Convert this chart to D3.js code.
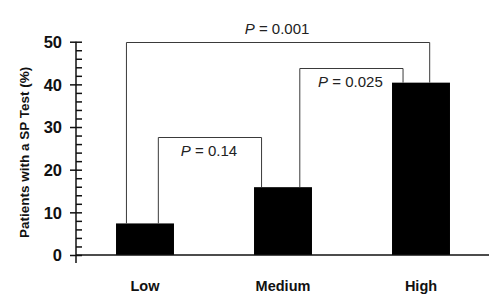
<!DOCTYPE html>
<html>
<head>
<meta charset="utf-8">
<script src="https://cdn.jsdelivr.net/npm/d3@7"></script>
<style>
  body { margin: 0; background: #fff; }
  svg { font-family: Arial, "Liberation Sans", sans-serif; }
</style>
</head>
<body>
<svg id="svgRoot" width="500" height="306"></svg>
<script>
// data
const categories = ["Low", "Medium", "High"]
const values = [7.4, 15.9, 40.4]
const yTicks = [0, 10, 20, 30, 40, 50]
const yMinorTicks = [2, 4, 6, 8, 12, 14, 16, 18, 22, 24, 26, 28, 32, 34, 36, 38, 42, 44, 46, 48]
const comparisons = [
  { from: "Low", to: "High", level: 50, label: "0.001", side: "above" },
  { from: "Low", to: "Medium", level: 27.7, label: "0.14", side: "below" },
  { from: "Medium", to: "High", level: 43.8, label: "0.025", side: "below" },
]

const svg = d3.select("#svgRoot")
const margin = { top: 41.7, left: 76, bottom: 51, right: 10 }
const height = 306

const scale_x = d3.scaleBand()
  .domain(categories)
  .range([76, 490])
  .paddingInner(0.58)
  .paddingOuter(0.29)

const scale_y = d3.scaleLinear()
  .domain([0, 50])
  .range([height - margin.bottom, margin.top])

// bars
svg.append("g").selectAll("rect")
  .data(categories)
  .join("rect")
  .attr("x", d => scale_x(d))
  .attr("width", scale_x.bandwidth())
  .attr("y", (d, i) => scale_y(values[i]))
  .attr("height", (d, i) => scale_y(0) - scale_y(values[i]))
  .attr("fill", "#000")

// brackets: where each leg sits on its bar (fraction of bar width)
const legOffsets = [[0.18, 0.65], [0.73, 0.13], [0.79, 0.19]]
const g_br = svg.append("g")
comparisons.forEach((c, i) => {
  const x1 = scale_x(c.from) + legOffsets[i][0] * scale_x.bandwidth()
  const x2 = scale_x(c.to) + legOffsets[i][1] * scale_x.bandwidth()
  const yTop = Math.round(scale_y(c.level)) + 0.5
  const y1 = scale_y(values[categories.indexOf(c.from)])
  const y2 = scale_y(values[categories.indexOf(c.to)])
  g_br.append("path")
    .attr("d", `M${x1},${y1}V${yTop}H${x2}V${y2}`)
    .attr("fill", "none")
    .attr("stroke", "#3a3a3a")
    .attr("stroke-width", 1)
  const t = g_br.append("text")
    .attr("x", (x1 + x2) / 2 - 1)
    .attr("y", c.side === "above" ? yTop - 9 : yTop + 18.5)
    .attr("text-anchor", "middle")
    .attr("font-size", "15px")
    .attr("fill", "#222")
  t.append("tspan").attr("font-style", "italic").text("P")
  t.append("tspan").text(" = " + c.label)
})

// y axis
const g_y = svg.append("g").attr("transform", `translate(${margin.left},0)`)
g_y.call(d3.axisLeft(scale_y).tickValues(yTicks).tickSize(6).tickPadding(8))
g_y.select(".domain").remove()
g_y.selectAll(".tick line").attr("x2", -6).attr("x1", 6)
g_y.selectAll(".tick text")
  .attr("font-size", "16.5px")
  .attr("font-weight", "bold")
  .attr("font-family", "Arial, 'Liberation Sans', sans-serif")
  .attr("fill", "#111")
  .attr("dy", "0.36em")
g_y.selectAll(".tick line").attr("stroke", "#111").attr("stroke-width", 1.5)

const g_minor = svg.append("g").attr("transform", `translate(${margin.left},0)`)
g_minor.call(d3.axisRight(scale_y).tickValues(yMinorTicks).tickSize(6).tickFormat(""))
g_minor.select(".domain").remove()
g_minor.selectAll(".tick line").attr("stroke", "#111").attr("stroke-width", 1.5)

g_y.append("line")
  .attr("x1", 0).attr("x2", 0)
  .attr("y1", scale_y(50)).attr("y2", scale_y(0) + 8)
  .attr("stroke", "#111").attr("stroke-width", 1.5)

// x axis
const g_x = svg.append("g").attr("transform", `translate(0,${scale_y(0)})`)
g_x.append("line")
  .attr("x1", margin.left).attr("x2", 489)
  .attr("stroke", "#111").attr("stroke-width", 1.5)
g_x.selectAll("text")
  .data(categories)
  .join("text")
  .attr("x", d => scale_x(d) + scale_x.bandwidth() / 2)
  .attr("y", 36)
  .attr("text-anchor", "middle")
  .attr("font-size", "14.5px")
  .attr("font-weight", "bold")
  .attr("fill", "#111")
  .text(d => d)

// y title
svg.append("text")
  .attr("transform", `translate(29,${(scale_y(0) + scale_y(50)) / 2 + 4}) rotate(-90)`)
  .attr("text-anchor", "middle")
  .attr("font-size", "13.5px")
  .attr("font-weight", "bold")
  .attr("fill", "#111")
  .text("Patients with a SP Test (%)")
</script>
</body>
</html>
